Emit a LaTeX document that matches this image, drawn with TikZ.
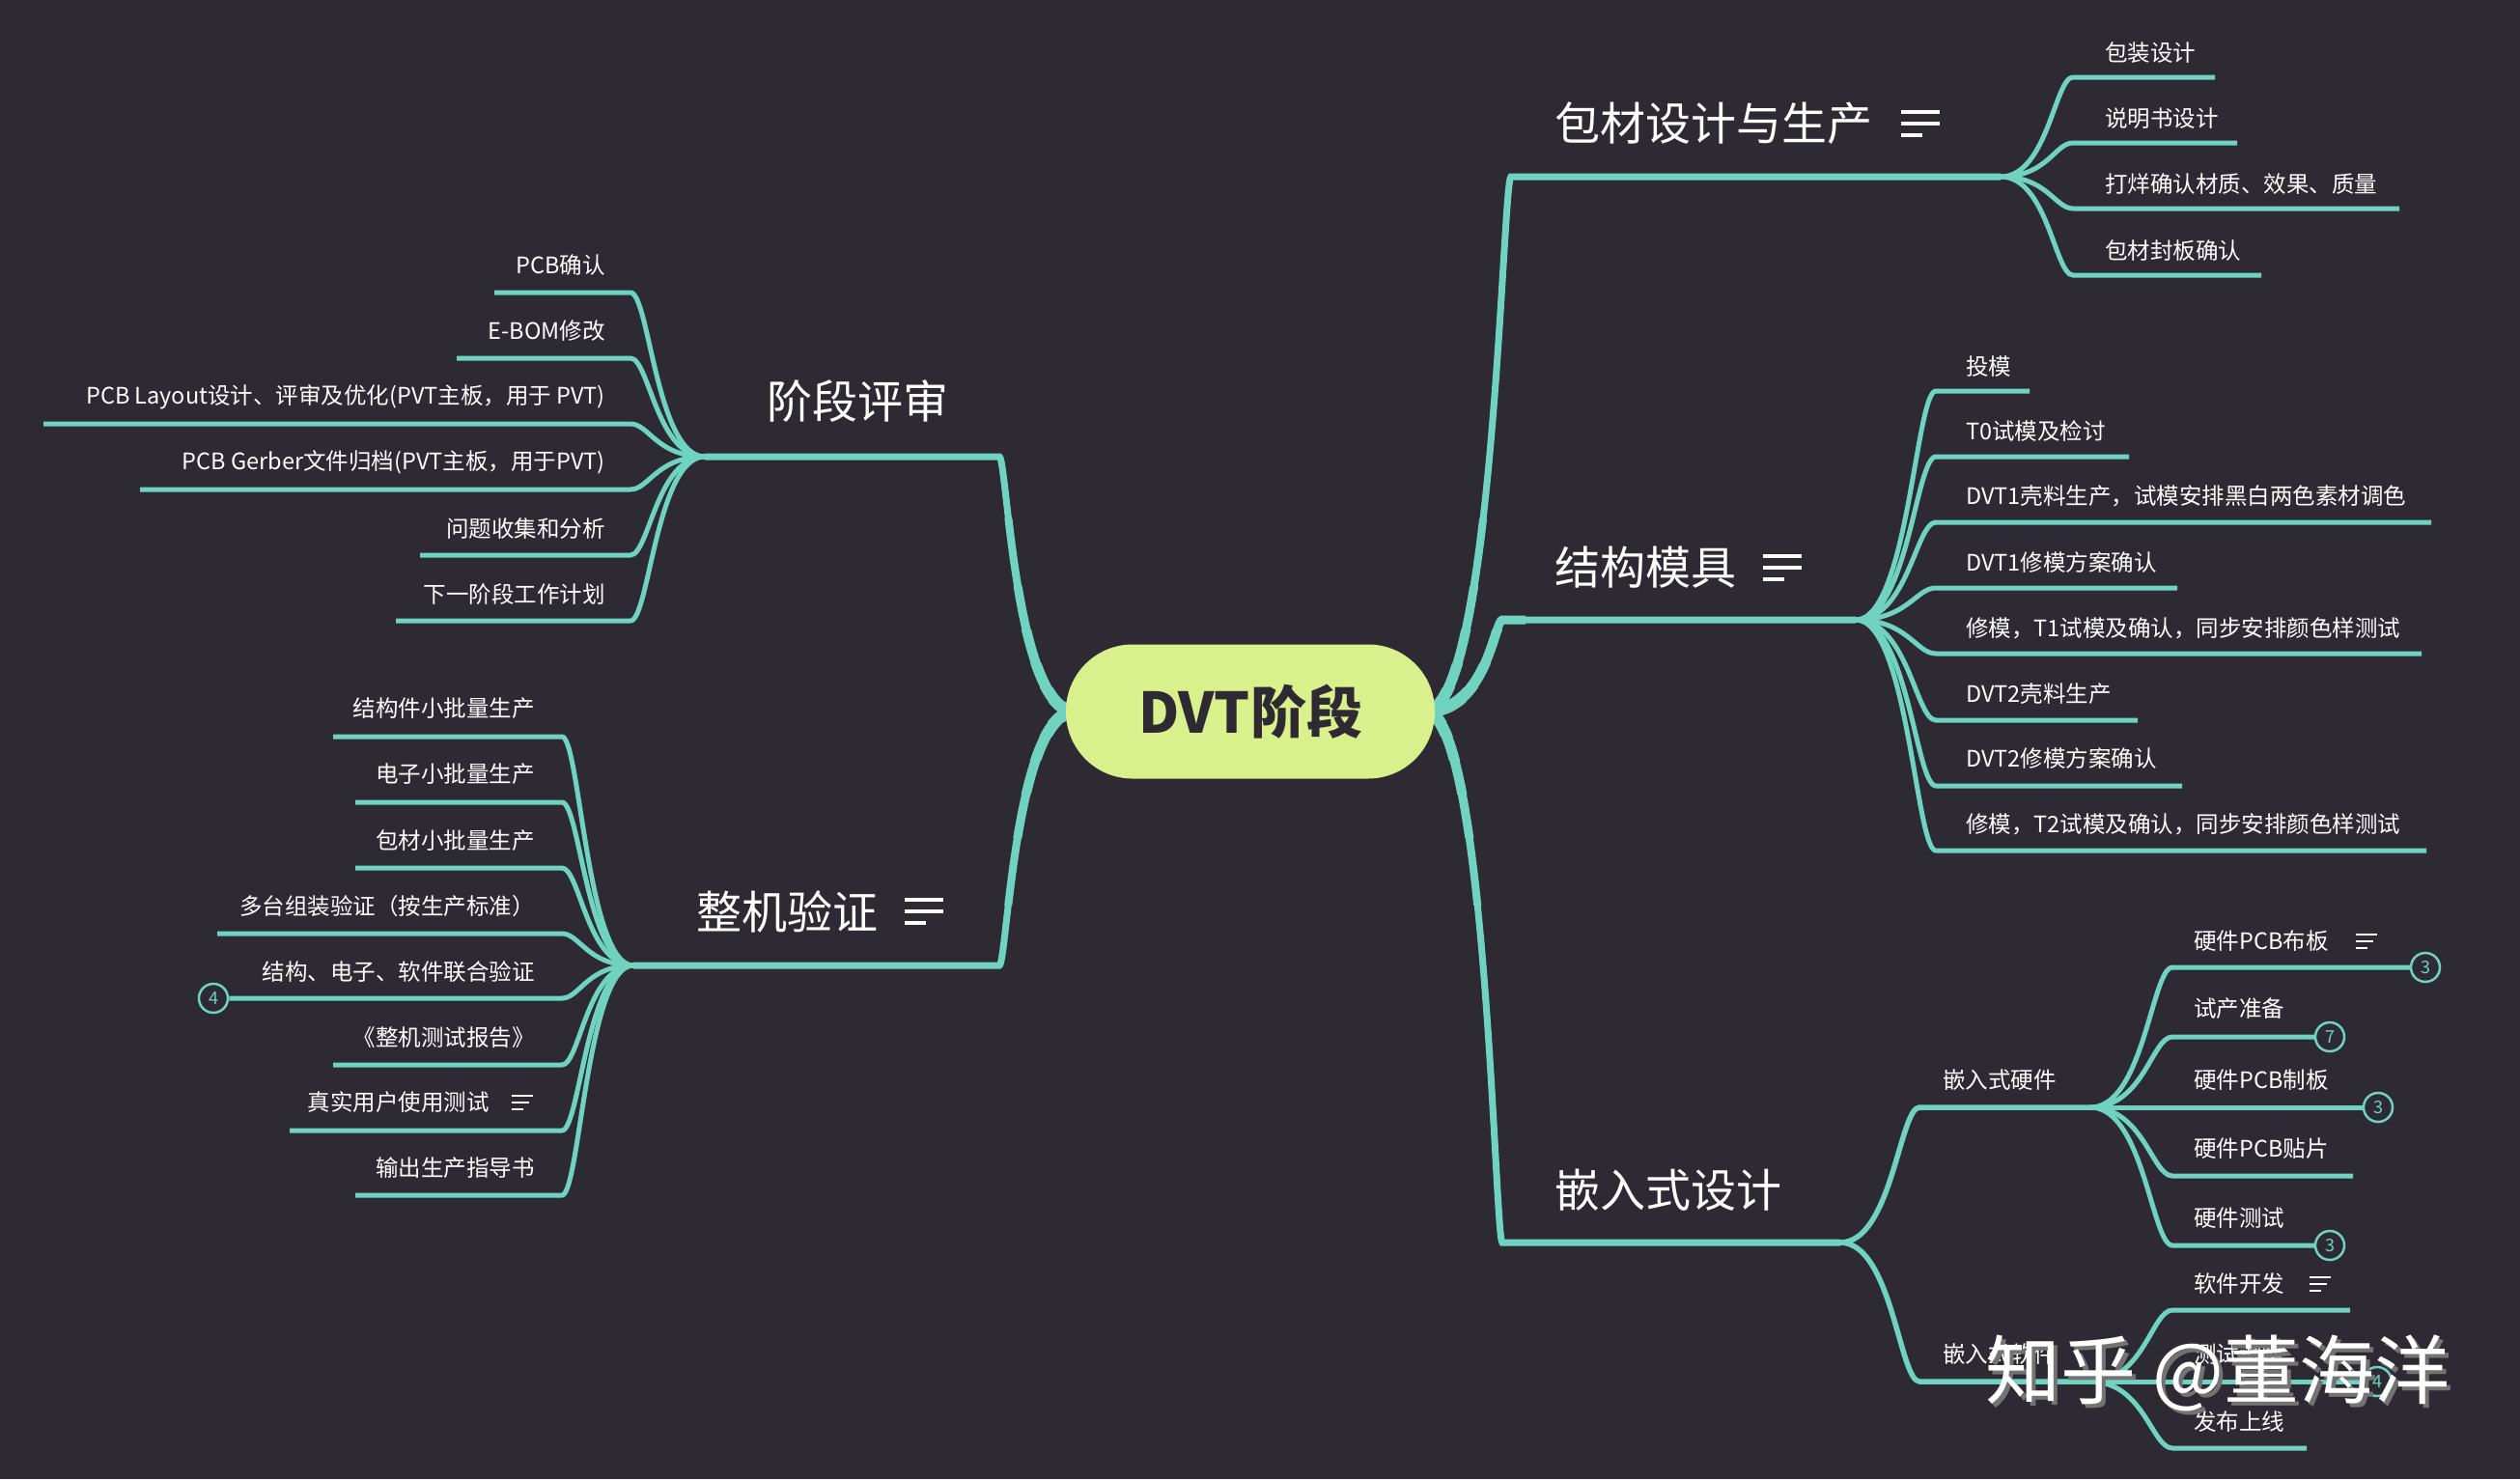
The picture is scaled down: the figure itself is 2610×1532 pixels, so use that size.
\documentclass[tikz,border=0pt]{standalone}
\usepackage{fontspec}
\setmainfont{Noto Sans CJK SC}
\usetikzlibrary{calc,backgrounds}
\definecolor{bg}{HTML}{2E2A33}
\definecolor{mmteal}{HTML}{6FD3C0}
\definecolor{pillfill}{HTML}{D9F08C}
\newcommand\mmlink[4][leafline]{\draw[#1] (#2) .. controls ($(#2)!0.65!(#3|-#2)$) and ($(#3)!0.25!(#2|-#3)$) .. (#3) -- (#4);}
\newcommand\mmtrunk[4][trunk]{\draw[#1] (#2) .. controls ($(#2)!0.8!(#3|-#2)$) and ($(#3)!0.1!(#2|-#3)$) .. (#3) -- (#4);}
\tikzset{
 bignotes/.pic={\draw[white,line width=4pt] (0,-12)--(40,-12) (0,0)--(40,0) (0,12)--(22,12);},
 smallnotes/.pic={\draw[white,line width=2.5pt] (0,-7)--(22,-7) (0,0)--(18,0) (0,7)--(12,7);}
}
\begin{document}
\begin{tikzpicture}[x=1pt,y=-1pt,
  trunk/.style={draw=mmteal,line width=7pt},
  branch/.style={draw=mmteal,line width=5.5pt},
  leafline/.style={draw=mmteal,line width=5pt},
  big/.style={text=white,font=\fontsize{47}{56}\selectfont,inner sep=0pt},
  small/.style={text=white,font=\fontsize{23.5}{28}\selectfont,inner sep=0pt},
  badge/.style={circle,draw=mmteal,line width=2.5pt,fill=bg,text=mmteal,minimum size=30pt,inner sep=0pt,font=\fontsize{18}{20}\selectfont},
  pillnode/.style={fill=pillfill,rounded corners=69pt,minimum width=382pt,minimum height=139pt,inner sep=0pt,text=bg,font=\bfseries\fontsize{58}{64}\selectfont},
  wmark/.style={font=\fontsize{78}{80}\selectfont,inner sep=0pt}
]
\useasboundingbox (0,0) rectangle (2610,1532);

% ---------- root ----------
\node[pillnode] (root) at (1295,737) {DVT阶段};
\coordinate (rJ) at (1476,737);
\coordinate (lJ) at (1114,737);

% ---------- right: 包材设计与生产 ----------
\node[big,anchor=west] (b1) at (1610,128) {包材设计与生产};
\pic at (1969,128) {bignotes};
\coordinate (b1K) at (1565,183); \coordinate (b1J) at (2072,183);
\node[small,anchor=west] (b1a) at (2180,55) {包装设计};
\coordinate (b1aK) at (2147,80); \coordinate (b1aE) at (2294,80);
\node[small,anchor=west] (b1b) at (2180,123) {说明书设计};
\coordinate (b1bK) at (2147,148); \coordinate (b1bE) at (2317,148);
\node[small,anchor=west] (b1c) at (2180,191) {打烊确认材质、效果、质量};
\coordinate (b1cK) at (2147,216); \coordinate (b1cE) at (2485,216);
\node[small,anchor=west] (b1d) at (2180,260) {包材封板确认};
\coordinate (b1dK) at (2147,285); \coordinate (b1dE) at (2342,285);

% ---------- right: 结构模具 ----------
\node[big,anchor=west] (b2) at (1610,588) {结构模具};
\pic at (1826,588) {bignotes};
\coordinate (b2K) at (1556,642); \coordinate (b2J) at (1922,642);
\node[small,anchor=west] (b2a) at (2036,380) {投模};
\coordinate (b2aK) at (2005,405); \coordinate (b2aE) at (2102,405);
\node[small,anchor=west] (b2b) at (2036,446) {T0试模及检讨};
\coordinate (b2bK) at (2005,473); \coordinate (b2bE) at (2205,473);
\node[small,anchor=west] (b2c) at (2036,514) {DVT1壳料生产，试模安排黑白两色素材调色};
\coordinate (b2cK) at (2005,541); \coordinate (b2cE) at (2518,541);
\node[small,anchor=west] (b2d) at (2036,583) {DVT1修模方案确认};
\coordinate (b2dK) at (2005,609); \coordinate (b2dE) at (2255,609);
\node[small,anchor=west] (b2e) at (2036,651) {修模，T1试模及确认，同步安排颜色样测试};
\coordinate (b2eK) at (2005,677); \coordinate (b2eE) at (2508,677);
\node[small,anchor=west] (b2f) at (2036,719) {DVT2壳料生产};
\coordinate (b2fK) at (2005,746); \coordinate (b2fE) at (2214,746);
\node[small,anchor=west] (b2g) at (2036,786) {DVT2修模方案确认};
\coordinate (b2gK) at (2005,814); \coordinate (b2gE) at (2260,814);
\node[small,anchor=west] (b2h) at (2036,854) {修模，T2试模及确认，同步安排颜色样测试};
\coordinate (b2hK) at (2005,881); \coordinate (b2hE) at (2513,881);

% ---------- right: 嵌入式设计 ----------
\node[big,anchor=west] (b3) at (1610,1233) {嵌入式设计};
\coordinate (b3K) at (1556,1287); \coordinate (b3J) at (1906,1287);
\node[small,anchor=west] (hw) at (2012,1119) {嵌入式硬件};
\coordinate (hwK) at (1988,1147); \coordinate (hwJ) at (2165,1147);
\node[small,anchor=west] (sw) at (2012,1403) {嵌入式软件};
\coordinate (swK) at (1988,1431); \coordinate (swJ) at (2165,1431);

\node[small,anchor=west] (hwa) at (2272,975) {硬件PCB布板};
\pic at (2440,975) {smallnotes};
\coordinate (hwaK) at (2250,1002); \node[badge] (hwaB) at (2512,1002) {3};
\node[small,anchor=west] (hwb) at (2272,1045) {试产准备};
\coordinate (hwbK) at (2250,1074); \node[badge] (hwbB) at (2413,1074) {7};
\node[small,anchor=west] (hwc) at (2272,1119) {硬件PCB制板};
\coordinate (hwcK) at (2250,1147); \node[badge] (hwcB) at (2463,1147) {3};
\node[small,anchor=west] (hwd) at (2272,1190) {硬件PCB贴片};
\coordinate (hwdK) at (2250,1218); \coordinate (hwdE) at (2437,1218);
\node[small,anchor=west] (hwe) at (2272,1262) {硬件测试};
\coordinate (hweK) at (2250,1290); \node[badge] (hweB) at (2413,1290) {3};

\node[small,anchor=west] (swa) at (2272,1330) {软件开发};
\pic at (2392,1330) {smallnotes};
\coordinate (swaK) at (2250,1357); \coordinate (swaE) at (2434,1357);
\node[small,anchor=west] (swb) at (2272,1403) {测试调整};
\coordinate (swbK) at (2250,1431); \node[badge] (swbB) at (2462,1431) {4};
\node[small,anchor=west] (swc) at (2272,1473) {发布上线};
\coordinate (swcK) at (2250,1500); \coordinate (swcE) at (2389,1500);

% ---------- left: 阶段评审 ----------
\node[big,anchor=west] (l1) at (794,416) {阶段评审};
\coordinate (l1K) at (1035,473); \coordinate (l1J) at (730,473);
\node[small,anchor=east] (l1a) at (627,275) {PCB确认};
\coordinate (l1aK) at (653,303); \coordinate (l1aE) at (512,303);
\node[small,anchor=east] (l1b) at (627,343) {E-BOM修改};
\coordinate (l1bK) at (653,371); \coordinate (l1bE) at (473,371);
\node[small,anchor=east] (l1c) at (627,411) {PCB Layout设计、评审及优化(PVT主板，用于 PVT)};
\coordinate (l1cK) at (653,439); \coordinate (l1cE) at (45,439);
\node[small,anchor=east] (l1d) at (627,479) {PCB Gerber文件归档(PVT主板，用于PVT)};
\coordinate (l1dK) at (653,507); \coordinate (l1dE) at (145,507);
\node[small,anchor=east] (l1e) at (627,548) {问题收集和分析};
\coordinate (l1eK) at (653,575); \coordinate (l1eE) at (435,575);
\node[small,anchor=east] (l1f) at (627,616) {下一阶段工作计划};
\coordinate (l1fK) at (653,643); \coordinate (l1fE) at (410,643);

% ---------- left: 整机验证 ----------
\node[big,anchor=west] (l2) at (721,944) {整机验证};
\pic at (937,944) {bignotes};
\coordinate (l2K) at (1035,1000); \coordinate (l2J) at (656,1000);
\node[small,anchor=east] (l2a) at (554,734) {结构件小批量生产};
\coordinate (l2aK) at (582,763); \coordinate (l2aE) at (345,763);
\node[small,anchor=east] (l2b) at (554,802) {电子小批量生产};
\coordinate (l2bK) at (582,831); \coordinate (l2bE) at (368,831);
\node[small,anchor=east] (l2c) at (554,871) {包材小批量生产};
\coordinate (l2cK) at (582,899); \coordinate (l2cE) at (368,899);
\node[small,anchor=east] (l2d) at (554,939) {多台组装验证（按生产标准）};
\coordinate (l2dK) at (582,967); \coordinate (l2dE) at (225,967);
\node[small,anchor=east] (l2e) at (554,1007) {结构、电子、软件联合验证};
\coordinate (l2eK) at (582,1034); \node[badge] (l2eB) at (221,1034) {4};
\node[small,anchor=east] (l2f) at (554,1075) {《整机测试报告》};
\coordinate (l2fK) at (582,1103); \coordinate (l2fE) at (345,1103);
\node[small,anchor=east] (l2g) at (507,1142) {真实用户使用测试};
\pic at (530,1142) {smallnotes};
\coordinate (l2gK) at (582,1171); \coordinate (l2gE) at (300,1171);
\node[small,anchor=east] (l2h) at (554,1210) {输出生产指导书};
\coordinate (l2hK) at (582,1238); \coordinate (l2hE) at (368,1238);

% ---------- watermark ----------
\node[wmark,text=black!55] (wmshadow) at (2301,1426) {知乎 @董海洋};
\node[wmark,text=white] (wm) at (2297,1422) {知乎 @董海洋};

% ---------- connectors (behind) ----------
\begin{scope}[on background layer]
\fill[bg] (0,0) rectangle (2610,1532);
% trunks
\mmtrunk{rJ}{b1K}{b1J}
\mmtrunk{rJ}{b2K}{b2J}
\mmtrunk{rJ}{b3K}{b3J}
\mmtrunk{lJ}{l1K}{l1J}
\mmtrunk{lJ}{l2K}{l2J}
% taper near the root
\foreach \w/\d in {8/200,9/130,10/85,11/50,12/25,13/10}{
  \begin{scope}
  \clip (1440,{737-\d}) rectangle (1580,{737+\d});
  \mmtrunk[trunk,line width=\w pt]{rJ}{b1K}{b1J}
  \mmtrunk[trunk,line width=\w pt]{rJ}{b2K}{b2J}
  \mmtrunk[trunk,line width=\w pt]{rJ}{b3K}{b3J}
  \end{scope}
  \begin{scope}
  \clip (1010,{737-\d}) rectangle (1150,{737+\d});
  \mmtrunk[trunk,line width=\w pt]{lJ}{l1K}{l1J}
  \mmtrunk[trunk,line width=\w pt]{lJ}{l2K}{l2J}
  \end{scope}
}
% 包材
\mmlink{b1J}{b1aK}{b1aE}
\mmlink{b1J}{b1bK}{b1bE}
\mmlink{b1J}{b1cK}{b1cE}
\mmlink{b1J}{b1dK}{b1dE}
% 结构模具
\mmlink{b2J}{b2aK}{b2aE}
\mmlink{b2J}{b2bK}{b2bE}
\mmlink{b2J}{b2cK}{b2cE}
\mmlink{b2J}{b2dK}{b2dE}
\mmlink{b2J}{b2eK}{b2eE}
\mmlink{b2J}{b2fK}{b2fE}
\mmlink{b2J}{b2gK}{b2gE}
\mmlink{b2J}{b2hK}{b2hE}
% 嵌入式
\mmlink[branch]{b3J}{hwK}{hwJ}
\mmlink[branch]{b3J}{swK}{swJ}
\mmlink{hwJ}{hwaK}{hwaB}
\mmlink{hwJ}{hwbK}{hwbB}
\mmlink{hwJ}{hwcK}{hwcB}
\mmlink{hwJ}{hwdK}{hwdE}
\mmlink{hwJ}{hweK}{hweB}
\mmlink{swJ}{swaK}{swaE}
\mmlink{swJ}{swbK}{swbB}
\mmlink{swJ}{swcK}{swcE}
% 阶段评审
\mmlink{l1J}{l1aK}{l1aE}
\mmlink{l1J}{l1bK}{l1bE}
\mmlink{l1J}{l1cK}{l1cE}
\mmlink{l1J}{l1dK}{l1dE}
\mmlink{l1J}{l1eK}{l1eE}
\mmlink{l1J}{l1fK}{l1fE}
% 整机验证
\mmlink{l2J}{l2aK}{l2aE}
\mmlink{l2J}{l2bK}{l2bE}
\mmlink{l2J}{l2cK}{l2cE}
\mmlink{l2J}{l2dK}{l2dE}
\mmlink{l2J}{l2eK}{l2eB}
\mmlink{l2J}{l2fK}{l2fE}
\mmlink{l2J}{l2gK}{l2gE}
\mmlink{l2J}{l2hK}{l2hE}
\end{scope}
\end{tikzpicture}
\end{document}
